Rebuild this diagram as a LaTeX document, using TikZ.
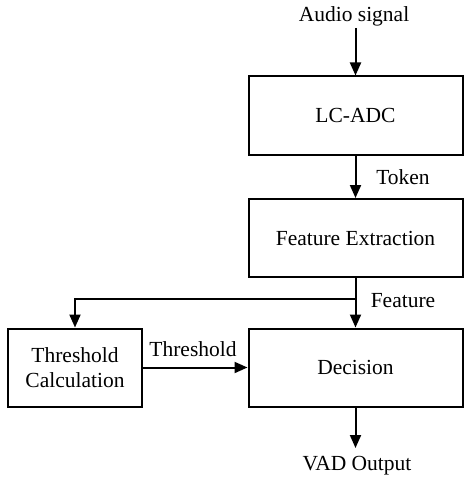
\documentclass[tikz,border=0pt]{standalone}
\usepackage{fontspec}
\setmainfont{Liberation Serif}
\usetikzlibrary{arrows.meta}
\begin{document}
\begin{tikzpicture}[x=1pt,y=-1pt,
  blk/.style={draw,line width=2pt,minimum width=214pt,minimum height=78pt,inner sep=0pt,font=\fontsize{21.5}{25}\selectfont},
  lbl/.style={inner sep=0pt,font=\fontsize{21.5}{25}\selectfont},
  arr/.style={line width=2pt,-{Triangle[length=13pt,width=11pt]}}]
\useasboundingbox (0,0) rectangle (474,484);
\node[blk] (adc) at (355.5,115.5) {LC-ADC};
\node[blk] (fe) at (355.5,238) {Feature Extraction};
\node[blk] (dec) at (355.5,367.5) {Decision};
\node[blk,minimum width=134pt,align=center] (thr) at (75,367.5) {Threshold\\Calculation};
\node[lbl] (audio) at (354,16) {Audio signal};
\node[lbl] (vad) at (357,466) {VAD Output};
\node[lbl] (tok) at (403,177) {Token};
\node[lbl] (feat) at (403,301) {Feature};
\node[lbl] (thl) at (193,349) {Threshold};
\coordinate (src) at (355.5,28);
\coordinate (out) at (355.5,448);
\coordinate (br) at (355.5,299);
\draw[arr] (src) -- (adc.north);
\draw[arr] (adc.south) -- (fe.north);
\draw[arr] (fe.south) -- (dec.north);
\draw[arr] (br) -| (thr.north);
\draw[arr] (thr.east) -- (dec.west);
\draw[arr] (dec.south) -- (out);
\end{tikzpicture}
\end{document}
